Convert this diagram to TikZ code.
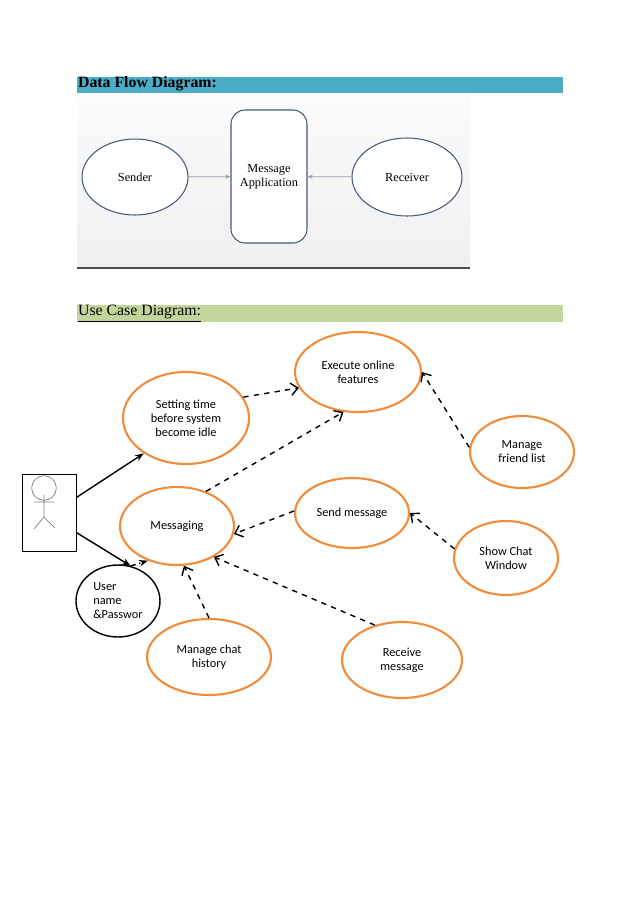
\documentclass[tikz,border=0pt]{standalone}
\usepackage{fontspec}
\setmainfont{Liberation Serif}
\newfontfamily\calib{Carlito}
\usetikzlibrary{shapes.geometric,arrows.meta}
\definecolor{barblue}{RGB}{75,172,198}
\definecolor{bargreen}{RGB}{194,214,155}
\definecolor{ucorange}{RGB}{240,140,60}
\definecolor{dfdline}{RGB}{70,90,120}
\begin{document}
\begin{tikzpicture}[x=0.02cm, y=-0.02cm,
        usecase/.style={ellipse, draw=ucorange, line width=1.2pt, fill=white, align=center, font=\calib\scriptsize, inner sep=0pt},
        dfdshape/.style={draw=dfdline, line width=0.6pt, fill=white, align=center, font=\scriptsize, inner sep=0pt},
        dep/.style={-{Straight Barb[length=4pt,width=7pt]}, thick, dashed},
        assoc/.style={-{Stealth[length=5pt]}, thick}
    ]
        \useasboundingbox (0,0) rectangle (638,904);
        % Data flow section
        \fill[barblue] (77,77) rectangle (563,93);
        \node[anchor=west, font=\bfseries\small, inner sep=1pt] (dfdtitle) at (76,86) {\underline{Data Flow Diagram:}};
        \shade[top color=gray!3, bottom color=gray!12] (77,93) rectangle (470,268);
        \draw[black!70, line width=1pt] (77,268) -- (470,268);
        \node[dfdshape, ellipse, minimum width=2.12cm, minimum height=1.52cm] (sender) at (135,177) {Sender};
        \node[dfdshape, rectangle, rounded corners=8pt, minimum width=1.52cm, minimum height=2.66cm] (msgapp) at (269,176.5) {Message\\Application};
        \node[dfdshape, ellipse, minimum width=2.2cm, minimum height=1.56cm] (receiver) at (407,177) {Receiver};
        \draw[-{Stealth[length=3pt]}, dfdline!60] (sender) -- (msgapp);
        \draw[-{Stealth[length=3pt]}, dfdline!60] (receiver) -- (msgapp);

        % Use case section
        \fill[bargreen] (77,305) rectangle (563,322);
        \node[anchor=west, font=\small, inner sep=1pt] (uctitle) at (76,314) {\underline{Use Case Diagram:}};

        % Actor
        \node[draw, minimum width=1.08cm, minimum height=1.54cm, inner sep=0pt] (actor) at (49,512.5) {};
        \draw[gray] (44,488) circle (7pt);
        \draw[gray] (44,495) -- (44,517) (34,502) -- (54,502) (34,529) -- (44,517) -- (55,528);

        % Use cases
        \node[usecase, minimum width=2.52cm, minimum height=1.84cm] (settime) at (186,418) {Setting time\\before system\\become idle};
        \node[usecase, minimum width=2.52cm, minimum height=1.6cm] (execute) at (358,372) {Execute online\\features};
        \node[usecase, minimum width=2.08cm, minimum height=1.44cm] (friends) at (522,452) {Manage\\friend list};
        \node[usecase, minimum width=2.28cm, minimum height=1.56cm] (messaging) at (177,526) {Messaging};
        \node[usecase, minimum width=2.28cm, minimum height=1.4cm] (sendmsg) at (352,513) {Send message};
        \node[usecase, minimum width=2.08cm, minimum height=1.48cm] (showchat) at (506,558) {Show Chat\\Window};
        \node[ellipse, draw, thick, fill=white, minimum width=1.68cm, minimum height=1.44cm, font=\calib\scriptsize, align=left, inner sep=0pt] (login) at (118,601) {User\\name\\\&Passwor};
        \node[usecase, minimum width=2.48cm, minimum height=1.52cm] (history) at (209,657) {Manage chat\\history};
        \node[usecase, minimum width=2.4cm, minimum height=1.52cm] (receive) at (402,660) {Receive\\message};

        % Connectors
        \draw[assoc] ([yshift=0.3cm]actor.east) -- (settime.-140);
        \draw[assoc] ([yshift=-0.4cm]actor.east) -- (login.70);
        \draw[-{Stealth[length=5pt]}, thick, dash dot] (login.70) -- (messaging.-130);
        \draw[dep] (settime.20) -- (execute.-165);
        \draw[dep] (messaging.50) -- (execute.-110);
        \draw[dep] (sendmsg.178) -- (messaging.-8);
        \draw[dep] (receive.128) -- (messaging.-40);
        \draw[dep] (history.north) -- (messaging.-80);
        \draw[dep] (friends.175) -- (execute.east);
        \draw[dep] (showchat.170) -- (sendmsg.east);
    \end{tikzpicture}
\end{document}
